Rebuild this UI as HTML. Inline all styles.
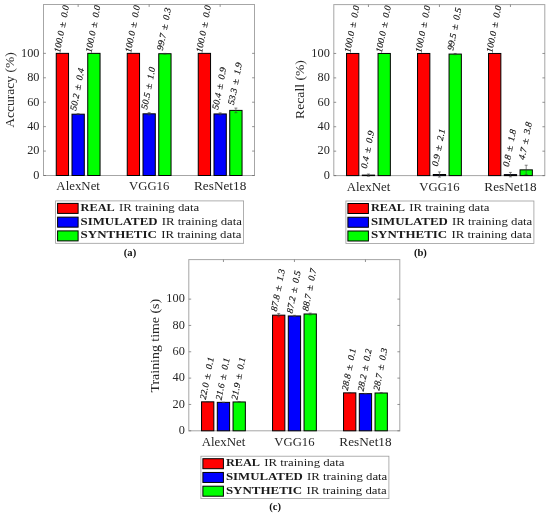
<!DOCTYPE html>
<html><head><meta charset="utf-8"><title>Figure</title>
<style>
html,body{margin:0;padding:0;background:#fff;}
svg{display:block;}
text{font-family:"Liberation Serif",serif;fill:#262626;}
.tk{font-size:12.6px;}
.yl{font-size:12.6px;}
.bl{font-size:9.2px;font-style:italic;fill:#111;stroke:#111;stroke-width:0.15px;}
.lg{font-size:11.1px;fill:#1a1a1a;}
.bl text{fill:#111;}
.b{font-weight:bold;}
.cap{font-size:10.6px;fill:#111;}
</style></head><body>
<svg width="550" height="517" viewBox="0 0 550 517">
<rect width="550" height="517" fill="#fff"/>
<rect x="43.50" y="4.50" width="211.00" height="171.00" fill="none" stroke="#a6a6a6" stroke-width="1"/>
<line x1="43.50" x2="45.90" y1="175.50" y2="175.50" stroke="#666" stroke-width="0.7"/>
<line x1="254.50" x2="252.10" y1="175.50" y2="175.50" stroke="#666" stroke-width="0.7"/>
<text x="33.35" y="178.80" class="tk" textLength="6.15" lengthAdjust="spacingAndGlyphs">0</text>
<line x1="43.50" x2="45.90" y1="151.07" y2="151.07" stroke="#666" stroke-width="0.7"/>
<line x1="254.50" x2="252.10" y1="151.07" y2="151.07" stroke="#666" stroke-width="0.7"/>
<text x="27.20" y="154.37" class="tk" textLength="12.30" lengthAdjust="spacingAndGlyphs">20</text>
<line x1="43.50" x2="45.90" y1="126.64" y2="126.64" stroke="#666" stroke-width="0.7"/>
<line x1="254.50" x2="252.10" y1="126.64" y2="126.64" stroke="#666" stroke-width="0.7"/>
<text x="27.20" y="129.94" class="tk" textLength="12.30" lengthAdjust="spacingAndGlyphs">40</text>
<line x1="43.50" x2="45.90" y1="102.21" y2="102.21" stroke="#666" stroke-width="0.7"/>
<line x1="254.50" x2="252.10" y1="102.21" y2="102.21" stroke="#666" stroke-width="0.7"/>
<text x="27.20" y="105.51" class="tk" textLength="12.30" lengthAdjust="spacingAndGlyphs">60</text>
<line x1="43.50" x2="45.90" y1="77.79" y2="77.79" stroke="#666" stroke-width="0.7"/>
<line x1="254.50" x2="252.10" y1="77.79" y2="77.79" stroke="#666" stroke-width="0.7"/>
<text x="27.20" y="81.09" class="tk" textLength="12.30" lengthAdjust="spacingAndGlyphs">80</text>
<line x1="43.50" x2="45.90" y1="53.36" y2="53.36" stroke="#666" stroke-width="0.7"/>
<line x1="254.50" x2="252.10" y1="53.36" y2="53.36" stroke="#666" stroke-width="0.7"/>
<text x="21.05" y="56.66" class="tk" textLength="18.45" lengthAdjust="spacingAndGlyphs">100</text>
<line x1="78.15" x2="78.15" y1="4.50" y2="6.90" stroke="#666" stroke-width="0.7"/>
<text x="56.35" y="190.40" class="tk" textLength="43.60" lengthAdjust="spacingAndGlyphs">AlexNet</text>
<rect x="56.25" y="53.36" width="12.30" height="122.14" fill="#ff0000" stroke="#000" stroke-width="1"/>
<g transform="translate(61.40,28.93) rotate(-79)" class="bl"><text x="-23.90" y="3.1" textLength="21.80" lengthAdjust="spacingAndGlyphs">100.0</text><text x="1.40" y="3.1" textLength="6.00" lengthAdjust="spacingAndGlyphs">±</text><text x="11.70" y="3.1" textLength="12.20" lengthAdjust="spacingAndGlyphs">0.0</text></g>
<rect x="72.00" y="114.18" width="12.30" height="61.32" fill="#0000ff" stroke="#000" stroke-width="1"/>
<line x1="78.15" x2="78.15" y1="113.70" y2="114.67" stroke="#3a3a3a" stroke-width="0.6"/>
<line x1="76.65" x2="79.65" y1="113.70" y2="113.70" stroke="#3a3a3a" stroke-width="0.6"/>
<line x1="76.65" x2="79.65" y1="114.67" y2="114.67" stroke="#3a3a3a" stroke-width="0.6"/>
<g transform="translate(77.15,89.27) rotate(-79)" class="bl"><text x="-21.50" y="3.1" textLength="17.00" lengthAdjust="spacingAndGlyphs">50.2</text><text x="-1.00" y="3.1" textLength="6.00" lengthAdjust="spacingAndGlyphs">±</text><text x="9.30" y="3.1" textLength="12.20" lengthAdjust="spacingAndGlyphs">0.4</text></g>
<rect x="87.75" y="53.36" width="12.30" height="122.14" fill="#00ff00" stroke="#000" stroke-width="1"/>
<g transform="translate(92.90,28.93) rotate(-79)" class="bl"><text x="-23.90" y="3.1" textLength="21.80" lengthAdjust="spacingAndGlyphs">100.0</text><text x="1.40" y="3.1" textLength="6.00" lengthAdjust="spacingAndGlyphs">±</text><text x="11.70" y="3.1" textLength="12.20" lengthAdjust="spacingAndGlyphs">0.0</text></g>
<line x1="149.15" x2="149.15" y1="4.50" y2="6.90" stroke="#666" stroke-width="0.7"/>
<text x="129.05" y="190.40" class="tk" textLength="40.20" lengthAdjust="spacingAndGlyphs">VGG16</text>
<rect x="127.25" y="53.36" width="12.30" height="122.14" fill="#ff0000" stroke="#000" stroke-width="1"/>
<g transform="translate(132.40,28.93) rotate(-79)" class="bl"><text x="-23.90" y="3.1" textLength="21.80" lengthAdjust="spacingAndGlyphs">100.0</text><text x="1.40" y="3.1" textLength="6.00" lengthAdjust="spacingAndGlyphs">±</text><text x="11.70" y="3.1" textLength="12.20" lengthAdjust="spacingAndGlyphs">0.0</text></g>
<rect x="143.00" y="113.82" width="12.30" height="61.68" fill="#0000ff" stroke="#000" stroke-width="1"/>
<line x1="149.15" x2="149.15" y1="112.60" y2="115.04" stroke="#3a3a3a" stroke-width="0.6"/>
<line x1="147.65" x2="150.65" y1="112.60" y2="112.60" stroke="#3a3a3a" stroke-width="0.6"/>
<line x1="147.65" x2="150.65" y1="115.04" y2="115.04" stroke="#3a3a3a" stroke-width="0.6"/>
<g transform="translate(148.15,88.17) rotate(-79)" class="bl"><text x="-21.50" y="3.1" textLength="17.00" lengthAdjust="spacingAndGlyphs">50.5</text><text x="-1.00" y="3.1" textLength="6.00" lengthAdjust="spacingAndGlyphs">±</text><text x="9.30" y="3.1" textLength="12.20" lengthAdjust="spacingAndGlyphs">1.0</text></g>
<rect x="158.75" y="53.72" width="12.30" height="121.78" fill="#00ff00" stroke="#000" stroke-width="1"/>
<line x1="164.90" x2="164.90" y1="53.36" y2="54.09" stroke="#3a3a3a" stroke-width="0.6"/>
<line x1="163.40" x2="166.40" y1="53.36" y2="53.36" stroke="#3a3a3a" stroke-width="0.6"/>
<line x1="163.40" x2="166.40" y1="54.09" y2="54.09" stroke="#3a3a3a" stroke-width="0.6"/>
<g transform="translate(163.90,28.93) rotate(-79)" class="bl"><text x="-21.50" y="3.1" textLength="17.00" lengthAdjust="spacingAndGlyphs">99.7</text><text x="-1.00" y="3.1" textLength="6.00" lengthAdjust="spacingAndGlyphs">±</text><text x="9.30" y="3.1" textLength="12.20" lengthAdjust="spacingAndGlyphs">0.3</text></g>
<line x1="220.15" x2="220.15" y1="4.50" y2="6.90" stroke="#666" stroke-width="0.7"/>
<text x="194.05" y="190.40" class="tk" textLength="52.20" lengthAdjust="spacingAndGlyphs">ResNet18</text>
<rect x="198.25" y="53.36" width="12.30" height="122.14" fill="#ff0000" stroke="#000" stroke-width="1"/>
<g transform="translate(203.40,28.93) rotate(-79)" class="bl"><text x="-23.90" y="3.1" textLength="21.80" lengthAdjust="spacingAndGlyphs">100.0</text><text x="1.40" y="3.1" textLength="6.00" lengthAdjust="spacingAndGlyphs">±</text><text x="11.70" y="3.1" textLength="12.20" lengthAdjust="spacingAndGlyphs">0.0</text></g>
<rect x="214.00" y="113.94" width="12.30" height="61.56" fill="#0000ff" stroke="#000" stroke-width="1"/>
<line x1="220.15" x2="220.15" y1="112.84" y2="115.04" stroke="#3a3a3a" stroke-width="0.6"/>
<line x1="218.65" x2="221.65" y1="112.84" y2="112.84" stroke="#3a3a3a" stroke-width="0.6"/>
<line x1="218.65" x2="221.65" y1="115.04" y2="115.04" stroke="#3a3a3a" stroke-width="0.6"/>
<g transform="translate(219.15,88.41) rotate(-79)" class="bl"><text x="-21.50" y="3.1" textLength="17.00" lengthAdjust="spacingAndGlyphs">50.4</text><text x="-1.00" y="3.1" textLength="6.00" lengthAdjust="spacingAndGlyphs">±</text><text x="9.30" y="3.1" textLength="12.20" lengthAdjust="spacingAndGlyphs">0.9</text></g>
<rect x="229.75" y="110.40" width="12.30" height="65.10" fill="#00ff00" stroke="#000" stroke-width="1"/>
<line x1="235.90" x2="235.90" y1="108.08" y2="112.72" stroke="#3a3a3a" stroke-width="0.6"/>
<line x1="234.40" x2="237.40" y1="108.08" y2="108.08" stroke="#3a3a3a" stroke-width="0.6"/>
<line x1="234.40" x2="237.40" y1="112.72" y2="112.72" stroke="#3a3a3a" stroke-width="0.6"/>
<g transform="translate(234.90,83.65) rotate(-79)" class="bl"><text x="-21.50" y="3.1" textLength="17.00" lengthAdjust="spacingAndGlyphs">53.3</text><text x="-1.00" y="3.1" textLength="6.00" lengthAdjust="spacingAndGlyphs">±</text><text x="9.30" y="3.1" textLength="12.20" lengthAdjust="spacingAndGlyphs">1.9</text></g>
<text transform="translate(13.50,127.65) rotate(-90)" class="yl" textLength="75.30" lengthAdjust="spacingAndGlyphs">Accuracy (%)</text>
<rect x="55.60" y="200.90" width="188.00" height="42.40" fill="#fff" stroke="#9c9c9c" stroke-width="0.8"/>
<rect x="57.60" y="203.40" width="20.5" height="10.0" fill="#ff0000" stroke="#000" stroke-width="1"/>
<text x="80.60" y="210.90" class="lg b" textLength="34.10" lengthAdjust="spacingAndGlyphs">REAL</text>
<text x="119.00" y="210.90" class="lg" textLength="80.2" lengthAdjust="spacingAndGlyphs">IR training data</text>
<rect x="57.60" y="217.15" width="20.5" height="10.0" fill="#0000ff" stroke="#000" stroke-width="1"/>
<text x="80.60" y="224.60" class="lg b" textLength="76.90" lengthAdjust="spacingAndGlyphs">SIMULATED</text>
<text x="161.80" y="224.60" class="lg" textLength="80.2" lengthAdjust="spacingAndGlyphs">IR training data</text>
<rect x="57.60" y="230.90" width="20.5" height="10.0" fill="#00ff00" stroke="#000" stroke-width="1"/>
<text x="80.60" y="238.30" class="lg b" textLength="76.30" lengthAdjust="spacingAndGlyphs">SYNTHETIC</text>
<text x="161.20" y="238.30" class="lg" textLength="80.2" lengthAdjust="spacingAndGlyphs">IR training data</text>
<rect x="333.80" y="4.60" width="211.00" height="171.00" fill="none" stroke="#a6a6a6" stroke-width="1"/>
<line x1="333.80" x2="336.20" y1="175.60" y2="175.60" stroke="#666" stroke-width="0.7"/>
<line x1="544.80" x2="542.40" y1="175.60" y2="175.60" stroke="#666" stroke-width="0.7"/>
<text x="323.65" y="178.90" class="tk" textLength="6.15" lengthAdjust="spacingAndGlyphs">0</text>
<line x1="333.80" x2="336.20" y1="151.17" y2="151.17" stroke="#666" stroke-width="0.7"/>
<line x1="544.80" x2="542.40" y1="151.17" y2="151.17" stroke="#666" stroke-width="0.7"/>
<text x="317.50" y="154.47" class="tk" textLength="12.30" lengthAdjust="spacingAndGlyphs">20</text>
<line x1="333.80" x2="336.20" y1="126.74" y2="126.74" stroke="#666" stroke-width="0.7"/>
<line x1="544.80" x2="542.40" y1="126.74" y2="126.74" stroke="#666" stroke-width="0.7"/>
<text x="317.50" y="130.04" class="tk" textLength="12.30" lengthAdjust="spacingAndGlyphs">40</text>
<line x1="333.80" x2="336.20" y1="102.31" y2="102.31" stroke="#666" stroke-width="0.7"/>
<line x1="544.80" x2="542.40" y1="102.31" y2="102.31" stroke="#666" stroke-width="0.7"/>
<text x="317.50" y="105.61" class="tk" textLength="12.30" lengthAdjust="spacingAndGlyphs">60</text>
<line x1="333.80" x2="336.20" y1="77.89" y2="77.89" stroke="#666" stroke-width="0.7"/>
<line x1="544.80" x2="542.40" y1="77.89" y2="77.89" stroke="#666" stroke-width="0.7"/>
<text x="317.50" y="81.19" class="tk" textLength="12.30" lengthAdjust="spacingAndGlyphs">80</text>
<line x1="333.80" x2="336.20" y1="53.46" y2="53.46" stroke="#666" stroke-width="0.7"/>
<line x1="544.80" x2="542.40" y1="53.46" y2="53.46" stroke="#666" stroke-width="0.7"/>
<text x="311.35" y="56.76" class="tk" textLength="18.45" lengthAdjust="spacingAndGlyphs">100</text>
<line x1="368.45" x2="368.45" y1="4.60" y2="7.00" stroke="#666" stroke-width="0.7"/>
<text x="346.65" y="190.50" class="tk" textLength="43.60" lengthAdjust="spacingAndGlyphs">AlexNet</text>
<rect x="346.55" y="53.46" width="12.30" height="122.14" fill="#ff0000" stroke="#000" stroke-width="1"/>
<g transform="translate(351.70,29.03) rotate(-79)" class="bl"><text x="-23.90" y="3.1" textLength="21.80" lengthAdjust="spacingAndGlyphs">100.0</text><text x="1.40" y="3.1" textLength="6.00" lengthAdjust="spacingAndGlyphs">±</text><text x="11.70" y="3.1" textLength="12.20" lengthAdjust="spacingAndGlyphs">0.0</text></g>
<rect x="362.30" y="175.11" width="12.30" height="0.49" fill="#0000ff" stroke="#000" stroke-width="1"/>
<line x1="368.45" x2="368.45" y1="174.01" y2="176.21" stroke="#3a3a3a" stroke-width="0.6"/>
<line x1="366.95" x2="369.95" y1="174.01" y2="174.01" stroke="#3a3a3a" stroke-width="0.6"/>
<line x1="366.95" x2="369.95" y1="176.21" y2="176.21" stroke="#3a3a3a" stroke-width="0.6"/>
<g transform="translate(367.45,149.58) rotate(-79)" class="bl"><text x="-19.10" y="3.1" textLength="12.20" lengthAdjust="spacingAndGlyphs">0.4</text><text x="-3.40" y="3.1" textLength="6.00" lengthAdjust="spacingAndGlyphs">±</text><text x="6.90" y="3.1" textLength="12.20" lengthAdjust="spacingAndGlyphs">0.9</text></g>
<rect x="378.05" y="53.46" width="12.30" height="122.14" fill="#00ff00" stroke="#000" stroke-width="1"/>
<g transform="translate(383.20,29.03) rotate(-79)" class="bl"><text x="-23.90" y="3.1" textLength="21.80" lengthAdjust="spacingAndGlyphs">100.0</text><text x="1.40" y="3.1" textLength="6.00" lengthAdjust="spacingAndGlyphs">±</text><text x="11.70" y="3.1" textLength="12.20" lengthAdjust="spacingAndGlyphs">0.0</text></g>
<line x1="439.45" x2="439.45" y1="4.60" y2="7.00" stroke="#666" stroke-width="0.7"/>
<text x="419.35" y="190.50" class="tk" textLength="40.20" lengthAdjust="spacingAndGlyphs">VGG16</text>
<rect x="417.55" y="53.46" width="12.30" height="122.14" fill="#ff0000" stroke="#000" stroke-width="1"/>
<g transform="translate(422.70,29.03) rotate(-79)" class="bl"><text x="-23.90" y="3.1" textLength="21.80" lengthAdjust="spacingAndGlyphs">100.0</text><text x="1.40" y="3.1" textLength="6.00" lengthAdjust="spacingAndGlyphs">±</text><text x="11.70" y="3.1" textLength="12.20" lengthAdjust="spacingAndGlyphs">0.0</text></g>
<rect x="433.30" y="174.50" width="12.30" height="1.10" fill="#0000ff" stroke="#000" stroke-width="1"/>
<line x1="439.45" x2="439.45" y1="171.94" y2="177.07" stroke="#3a3a3a" stroke-width="0.6"/>
<line x1="437.95" x2="440.95" y1="171.94" y2="171.94" stroke="#3a3a3a" stroke-width="0.6"/>
<line x1="437.95" x2="440.95" y1="177.07" y2="177.07" stroke="#3a3a3a" stroke-width="0.6"/>
<g transform="translate(438.45,147.51) rotate(-79)" class="bl"><text x="-19.10" y="3.1" textLength="12.20" lengthAdjust="spacingAndGlyphs">0.9</text><text x="-3.40" y="3.1" textLength="6.00" lengthAdjust="spacingAndGlyphs">±</text><text x="6.90" y="3.1" textLength="12.20" lengthAdjust="spacingAndGlyphs">2.1</text></g>
<rect x="449.05" y="54.07" width="12.30" height="121.53" fill="#00ff00" stroke="#000" stroke-width="1"/>
<line x1="455.20" x2="455.20" y1="53.46" y2="54.68" stroke="#3a3a3a" stroke-width="0.6"/>
<line x1="453.70" x2="456.70" y1="53.46" y2="53.46" stroke="#3a3a3a" stroke-width="0.6"/>
<line x1="453.70" x2="456.70" y1="54.68" y2="54.68" stroke="#3a3a3a" stroke-width="0.6"/>
<g transform="translate(454.20,29.03) rotate(-79)" class="bl"><text x="-21.50" y="3.1" textLength="17.00" lengthAdjust="spacingAndGlyphs">99.5</text><text x="-1.00" y="3.1" textLength="6.00" lengthAdjust="spacingAndGlyphs">±</text><text x="9.30" y="3.1" textLength="12.20" lengthAdjust="spacingAndGlyphs">0.5</text></g>
<line x1="510.45" x2="510.45" y1="4.60" y2="7.00" stroke="#666" stroke-width="0.7"/>
<text x="484.35" y="190.50" class="tk" textLength="52.20" lengthAdjust="spacingAndGlyphs">ResNet18</text>
<rect x="488.55" y="53.46" width="12.30" height="122.14" fill="#ff0000" stroke="#000" stroke-width="1"/>
<g transform="translate(493.70,29.03) rotate(-79)" class="bl"><text x="-23.90" y="3.1" textLength="21.80" lengthAdjust="spacingAndGlyphs">100.0</text><text x="1.40" y="3.1" textLength="6.00" lengthAdjust="spacingAndGlyphs">±</text><text x="11.70" y="3.1" textLength="12.20" lengthAdjust="spacingAndGlyphs">0.0</text></g>
<rect x="504.30" y="174.62" width="12.30" height="0.98" fill="#0000ff" stroke="#000" stroke-width="1"/>
<line x1="510.45" x2="510.45" y1="172.42" y2="176.82" stroke="#3a3a3a" stroke-width="0.6"/>
<line x1="508.95" x2="511.95" y1="172.42" y2="172.42" stroke="#3a3a3a" stroke-width="0.6"/>
<line x1="508.95" x2="511.95" y1="176.82" y2="176.82" stroke="#3a3a3a" stroke-width="0.6"/>
<g transform="translate(509.45,148.00) rotate(-79)" class="bl"><text x="-19.10" y="3.1" textLength="12.20" lengthAdjust="spacingAndGlyphs">0.8</text><text x="-3.40" y="3.1" textLength="6.00" lengthAdjust="spacingAndGlyphs">±</text><text x="6.90" y="3.1" textLength="12.20" lengthAdjust="spacingAndGlyphs">1.8</text></g>
<rect x="520.05" y="169.86" width="12.30" height="5.74" fill="#00ff00" stroke="#000" stroke-width="1"/>
<line x1="526.20" x2="526.20" y1="165.22" y2="174.50" stroke="#3a3a3a" stroke-width="0.6"/>
<line x1="524.70" x2="527.70" y1="165.22" y2="165.22" stroke="#3a3a3a" stroke-width="0.6"/>
<line x1="524.70" x2="527.70" y1="174.50" y2="174.50" stroke="#3a3a3a" stroke-width="0.6"/>
<g transform="translate(525.20,140.79) rotate(-79)" class="bl"><text x="-19.10" y="3.1" textLength="12.20" lengthAdjust="spacingAndGlyphs">4.7</text><text x="-3.40" y="3.1" textLength="6.00" lengthAdjust="spacingAndGlyphs">±</text><text x="6.90" y="3.1" textLength="12.20" lengthAdjust="spacingAndGlyphs">3.8</text></g>
<text transform="translate(303.80,118.90) rotate(-90)" class="yl" textLength="58.80" lengthAdjust="spacingAndGlyphs">Recall (%)</text>
<rect x="345.90" y="201.00" width="188.00" height="42.40" fill="#fff" stroke="#9c9c9c" stroke-width="0.8"/>
<rect x="347.90" y="203.50" width="20.5" height="10.0" fill="#ff0000" stroke="#000" stroke-width="1"/>
<text x="370.90" y="211.00" class="lg b" textLength="34.10" lengthAdjust="spacingAndGlyphs">REAL</text>
<text x="409.30" y="211.00" class="lg" textLength="80.2" lengthAdjust="spacingAndGlyphs">IR training data</text>
<rect x="347.90" y="217.25" width="20.5" height="10.0" fill="#0000ff" stroke="#000" stroke-width="1"/>
<text x="370.90" y="224.70" class="lg b" textLength="76.90" lengthAdjust="spacingAndGlyphs">SIMULATED</text>
<text x="452.10" y="224.70" class="lg" textLength="80.2" lengthAdjust="spacingAndGlyphs">IR training data</text>
<rect x="347.90" y="231.00" width="20.5" height="10.0" fill="#00ff00" stroke="#000" stroke-width="1"/>
<text x="370.90" y="238.40" class="lg b" textLength="76.30" lengthAdjust="spacingAndGlyphs">SYNTHETIC</text>
<text x="451.50" y="238.40" class="lg" textLength="80.2" lengthAdjust="spacingAndGlyphs">IR training data</text>
<rect x="188.80" y="259.60" width="211.00" height="171.20" fill="none" stroke="#a6a6a6" stroke-width="1"/>
<line x1="188.80" x2="191.20" y1="430.80" y2="430.80" stroke="#666" stroke-width="0.7"/>
<line x1="399.80" x2="397.40" y1="430.80" y2="430.80" stroke="#666" stroke-width="0.7"/>
<text x="178.65" y="434.10" class="tk" textLength="6.15" lengthAdjust="spacingAndGlyphs">0</text>
<line x1="188.80" x2="191.20" y1="404.46" y2="404.46" stroke="#666" stroke-width="0.7"/>
<line x1="399.80" x2="397.40" y1="404.46" y2="404.46" stroke="#666" stroke-width="0.7"/>
<text x="172.50" y="407.76" class="tk" textLength="12.30" lengthAdjust="spacingAndGlyphs">20</text>
<line x1="188.80" x2="191.20" y1="378.12" y2="378.12" stroke="#666" stroke-width="0.7"/>
<line x1="399.80" x2="397.40" y1="378.12" y2="378.12" stroke="#666" stroke-width="0.7"/>
<text x="172.50" y="381.42" class="tk" textLength="12.30" lengthAdjust="spacingAndGlyphs">40</text>
<line x1="188.80" x2="191.20" y1="351.78" y2="351.78" stroke="#666" stroke-width="0.7"/>
<line x1="399.80" x2="397.40" y1="351.78" y2="351.78" stroke="#666" stroke-width="0.7"/>
<text x="172.50" y="355.08" class="tk" textLength="12.30" lengthAdjust="spacingAndGlyphs">60</text>
<line x1="188.80" x2="191.20" y1="325.45" y2="325.45" stroke="#666" stroke-width="0.7"/>
<line x1="399.80" x2="397.40" y1="325.45" y2="325.45" stroke="#666" stroke-width="0.7"/>
<text x="172.50" y="328.75" class="tk" textLength="12.30" lengthAdjust="spacingAndGlyphs">80</text>
<line x1="188.80" x2="191.20" y1="299.11" y2="299.11" stroke="#666" stroke-width="0.7"/>
<line x1="399.80" x2="397.40" y1="299.11" y2="299.11" stroke="#666" stroke-width="0.7"/>
<text x="166.35" y="302.41" class="tk" textLength="18.45" lengthAdjust="spacingAndGlyphs">100</text>
<line x1="223.45" x2="223.45" y1="259.60" y2="262.00" stroke="#666" stroke-width="0.7"/>
<text x="201.65" y="445.70" class="tk" textLength="43.60" lengthAdjust="spacingAndGlyphs">AlexNet</text>
<rect x="201.55" y="401.83" width="12.30" height="28.97" fill="#ff0000" stroke="#000" stroke-width="1"/>
<line x1="207.70" x2="207.70" y1="401.70" y2="401.96" stroke="#3a3a3a" stroke-width="0.6"/>
<line x1="206.20" x2="209.20" y1="401.70" y2="401.70" stroke="#3a3a3a" stroke-width="0.6"/>
<line x1="206.20" x2="209.20" y1="401.96" y2="401.96" stroke="#3a3a3a" stroke-width="0.6"/>
<g transform="translate(206.70,378.33) rotate(-79)" class="bl"><text x="-21.50" y="3.1" textLength="17.00" lengthAdjust="spacingAndGlyphs">22.0</text><text x="-1.00" y="3.1" textLength="6.00" lengthAdjust="spacingAndGlyphs">±</text><text x="9.30" y="3.1" textLength="12.20" lengthAdjust="spacingAndGlyphs">0.1</text></g>
<rect x="217.30" y="402.35" width="12.30" height="28.45" fill="#0000ff" stroke="#000" stroke-width="1"/>
<line x1="223.45" x2="223.45" y1="402.22" y2="402.49" stroke="#3a3a3a" stroke-width="0.6"/>
<line x1="221.95" x2="224.95" y1="402.22" y2="402.22" stroke="#3a3a3a" stroke-width="0.6"/>
<line x1="221.95" x2="224.95" y1="402.49" y2="402.49" stroke="#3a3a3a" stroke-width="0.6"/>
<g transform="translate(222.45,378.86) rotate(-79)" class="bl"><text x="-21.50" y="3.1" textLength="17.00" lengthAdjust="spacingAndGlyphs">21.6</text><text x="-1.00" y="3.1" textLength="6.00" lengthAdjust="spacingAndGlyphs">±</text><text x="9.30" y="3.1" textLength="12.20" lengthAdjust="spacingAndGlyphs">0.1</text></g>
<rect x="233.05" y="401.96" width="12.30" height="28.84" fill="#00ff00" stroke="#000" stroke-width="1"/>
<line x1="239.20" x2="239.20" y1="401.83" y2="402.09" stroke="#3a3a3a" stroke-width="0.6"/>
<line x1="237.70" x2="240.70" y1="401.83" y2="401.83" stroke="#3a3a3a" stroke-width="0.6"/>
<line x1="237.70" x2="240.70" y1="402.09" y2="402.09" stroke="#3a3a3a" stroke-width="0.6"/>
<g transform="translate(238.20,378.47) rotate(-79)" class="bl"><text x="-21.50" y="3.1" textLength="17.00" lengthAdjust="spacingAndGlyphs">21.9</text><text x="-1.00" y="3.1" textLength="6.00" lengthAdjust="spacingAndGlyphs">±</text><text x="9.30" y="3.1" textLength="12.20" lengthAdjust="spacingAndGlyphs">0.1</text></g>
<line x1="294.45" x2="294.45" y1="259.60" y2="262.00" stroke="#666" stroke-width="0.7"/>
<text x="274.35" y="445.70" class="tk" textLength="40.20" lengthAdjust="spacingAndGlyphs">VGG16</text>
<rect x="272.55" y="315.17" width="12.30" height="115.63" fill="#ff0000" stroke="#000" stroke-width="1"/>
<line x1="278.70" x2="278.70" y1="313.46" y2="316.89" stroke="#3a3a3a" stroke-width="0.6"/>
<line x1="277.20" x2="280.20" y1="313.46" y2="313.46" stroke="#3a3a3a" stroke-width="0.6"/>
<line x1="277.20" x2="280.20" y1="316.89" y2="316.89" stroke="#3a3a3a" stroke-width="0.6"/>
<g transform="translate(277.70,290.10) rotate(-79)" class="bl"><text x="-21.50" y="3.1" textLength="17.00" lengthAdjust="spacingAndGlyphs">87.8</text><text x="-1.00" y="3.1" textLength="6.00" lengthAdjust="spacingAndGlyphs">±</text><text x="9.30" y="3.1" textLength="12.20" lengthAdjust="spacingAndGlyphs">1.3</text></g>
<rect x="288.30" y="315.96" width="12.30" height="114.84" fill="#0000ff" stroke="#000" stroke-width="1"/>
<line x1="294.45" x2="294.45" y1="315.31" y2="316.62" stroke="#3a3a3a" stroke-width="0.6"/>
<line x1="292.95" x2="295.95" y1="315.31" y2="315.31" stroke="#3a3a3a" stroke-width="0.6"/>
<line x1="292.95" x2="295.95" y1="316.62" y2="316.62" stroke="#3a3a3a" stroke-width="0.6"/>
<g transform="translate(293.45,291.94) rotate(-79)" class="bl"><text x="-21.50" y="3.1" textLength="17.00" lengthAdjust="spacingAndGlyphs">87.2</text><text x="-1.00" y="3.1" textLength="6.00" lengthAdjust="spacingAndGlyphs">±</text><text x="9.30" y="3.1" textLength="12.20" lengthAdjust="spacingAndGlyphs">0.5</text></g>
<rect x="304.05" y="313.99" width="12.30" height="116.81" fill="#00ff00" stroke="#000" stroke-width="1"/>
<line x1="310.20" x2="310.20" y1="313.07" y2="314.91" stroke="#3a3a3a" stroke-width="0.6"/>
<line x1="308.70" x2="311.70" y1="313.07" y2="313.07" stroke="#3a3a3a" stroke-width="0.6"/>
<line x1="308.70" x2="311.70" y1="314.91" y2="314.91" stroke="#3a3a3a" stroke-width="0.6"/>
<g transform="translate(309.20,289.70) rotate(-79)" class="bl"><text x="-21.50" y="3.1" textLength="17.00" lengthAdjust="spacingAndGlyphs">88.7</text><text x="-1.00" y="3.1" textLength="6.00" lengthAdjust="spacingAndGlyphs">±</text><text x="9.30" y="3.1" textLength="12.20" lengthAdjust="spacingAndGlyphs">0.7</text></g>
<line x1="365.45" x2="365.45" y1="259.60" y2="262.00" stroke="#666" stroke-width="0.7"/>
<text x="339.35" y="445.70" class="tk" textLength="52.20" lengthAdjust="spacingAndGlyphs">ResNet18</text>
<rect x="343.55" y="392.87" width="12.30" height="37.93" fill="#ff0000" stroke="#000" stroke-width="1"/>
<line x1="349.70" x2="349.70" y1="392.74" y2="393.00" stroke="#3a3a3a" stroke-width="0.6"/>
<line x1="348.20" x2="351.20" y1="392.74" y2="392.74" stroke="#3a3a3a" stroke-width="0.6"/>
<line x1="348.20" x2="351.20" y1="393.00" y2="393.00" stroke="#3a3a3a" stroke-width="0.6"/>
<g transform="translate(348.70,369.38) rotate(-79)" class="bl"><text x="-21.50" y="3.1" textLength="17.00" lengthAdjust="spacingAndGlyphs">28.8</text><text x="-1.00" y="3.1" textLength="6.00" lengthAdjust="spacingAndGlyphs">±</text><text x="9.30" y="3.1" textLength="12.20" lengthAdjust="spacingAndGlyphs">0.1</text></g>
<rect x="359.30" y="393.66" width="12.30" height="37.14" fill="#0000ff" stroke="#000" stroke-width="1"/>
<line x1="365.45" x2="365.45" y1="393.40" y2="393.93" stroke="#3a3a3a" stroke-width="0.6"/>
<line x1="363.95" x2="366.95" y1="393.40" y2="393.40" stroke="#3a3a3a" stroke-width="0.6"/>
<line x1="363.95" x2="366.95" y1="393.93" y2="393.93" stroke="#3a3a3a" stroke-width="0.6"/>
<g transform="translate(364.45,370.04) rotate(-79)" class="bl"><text x="-21.50" y="3.1" textLength="17.00" lengthAdjust="spacingAndGlyphs">28.2</text><text x="-1.00" y="3.1" textLength="6.00" lengthAdjust="spacingAndGlyphs">±</text><text x="9.30" y="3.1" textLength="12.20" lengthAdjust="spacingAndGlyphs">0.2</text></g>
<rect x="375.05" y="393.00" width="12.30" height="37.80" fill="#00ff00" stroke="#000" stroke-width="1"/>
<line x1="381.20" x2="381.20" y1="392.61" y2="393.40" stroke="#3a3a3a" stroke-width="0.6"/>
<line x1="379.70" x2="382.70" y1="392.61" y2="392.61" stroke="#3a3a3a" stroke-width="0.6"/>
<line x1="379.70" x2="382.70" y1="393.40" y2="393.40" stroke="#3a3a3a" stroke-width="0.6"/>
<g transform="translate(380.20,369.25) rotate(-79)" class="bl"><text x="-21.50" y="3.1" textLength="17.00" lengthAdjust="spacingAndGlyphs">28.7</text><text x="-1.00" y="3.1" textLength="6.00" lengthAdjust="spacingAndGlyphs">±</text><text x="9.30" y="3.1" textLength="12.20" lengthAdjust="spacingAndGlyphs">0.3</text></g>
<text transform="translate(158.80,392.50) rotate(-90)" class="yl" textLength="93.60" lengthAdjust="spacingAndGlyphs">Training time (s)</text>
<rect x="200.90" y="456.20" width="188.00" height="42.40" fill="#fff" stroke="#9c9c9c" stroke-width="0.8"/>
<rect x="202.90" y="458.70" width="20.5" height="10.0" fill="#ff0000" stroke="#000" stroke-width="1"/>
<text x="225.90" y="466.20" class="lg b" textLength="34.10" lengthAdjust="spacingAndGlyphs">REAL</text>
<text x="264.30" y="466.20" class="lg" textLength="80.2" lengthAdjust="spacingAndGlyphs">IR training data</text>
<rect x="202.90" y="472.45" width="20.5" height="10.0" fill="#0000ff" stroke="#000" stroke-width="1"/>
<text x="225.90" y="479.90" class="lg b" textLength="76.90" lengthAdjust="spacingAndGlyphs">SIMULATED</text>
<text x="307.10" y="479.90" class="lg" textLength="80.2" lengthAdjust="spacingAndGlyphs">IR training data</text>
<rect x="202.90" y="486.20" width="20.5" height="10.0" fill="#00ff00" stroke="#000" stroke-width="1"/>
<text x="225.90" y="493.60" class="lg b" textLength="76.30" lengthAdjust="spacingAndGlyphs">SYNTHETIC</text>
<text x="306.50" y="493.60" class="lg" textLength="80.2" lengthAdjust="spacingAndGlyphs">IR training data</text>
<text x="130" y="255.6" text-anchor="middle" class="cap b">(a)</text>
<text x="420.4" y="255.6" text-anchor="middle" class="cap b">(b)</text>
<text x="275.2" y="510.4" text-anchor="middle" class="cap b">(c)</text>
</svg>
</body></html>
